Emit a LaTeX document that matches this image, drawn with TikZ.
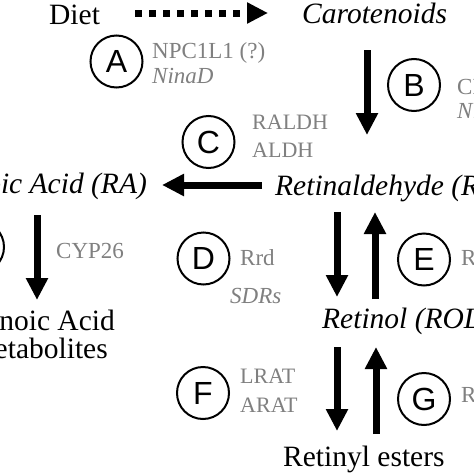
\documentclass[tikz,border=0pt]{standalone}
\usepackage{fontspec}
\setmainfont{Liberation Serif}
\newfontfamily\circfont{Liberation Sans}
\usetikzlibrary{arrows.meta}
\definecolor{labgray}{HTML}{808080}
\tikzset{
  main/.style={inner sep=0pt, font=\fontsize{29.5}{34}\selectfont},
  mainit/.style={main, font=\fontsize{29.5}{34}\selectfont\itshape},
  enz/.style={inner sep=0pt, text=labgray, font=\fontsize{23}{27}\selectfont},
  enzcap/.style={inner sep=0pt, text=labgray, font=\fontsize{22}{26}\selectfont},
  enzit/.style={enz, font=\fontsize{23}{27}\selectfont\itshape},
  circ/.style={circle, draw, line width=2pt, minimum size=52pt, inner sep=0pt, font=\fontsize{32}{36}\circfont},
  fat/.style={line width=7pt, -{Triangle[length=22pt,width=21pt]}},
  dotarrow/.style={line width=7pt, dash pattern=on 7pt off 7pt, -{Triangle[length=21pt,width=20pt]}}
}
\begin{document}
\begin{tikzpicture}[x=1pt, y=-1pt]
\useasboundingbox[fill=white] (0,0) rectangle (474,474);

% main labels
\node[main, anchor=base west] (diet) at (49,24) {Diet};
\node[mainit, anchor=base west] (caro) at (302,23) {Carotenoids};
\node[mainit, anchor=base east] (ra) at (147,193) {Retinoic Acid (RA)};
\node[mainit, anchor=base west] (ral) at (275,195) {Retinaldehyde (RAL)};
\node[main, anchor=base east] (ram1) at (115,330) {Retinoic Acid};
\node[main, anchor=base east] (ram2) at (108,358) {Metabolites};
\node[mainit, anchor=base west] (rol) at (322,328) {Retinol (ROL)};
\node[main, anchor=base west] (re) at (283,466) {Retinyl esters};

% circles
\node[circ] (cA) at (116.5,61.5) {A};
\node[circ] (cB) at (414,85) {B};
\node[circ] (cC) at (208.5,142) {C};
\node[circ] (cH) at (-22,247) {};
\node[circ] (cD) at (203.5,258.5) {D};
\node[circ] (cE) at (424,259.5) {E};
\node[circ] (cF) at (203,393) {F};
\node[circ] (cG) at (424,399) {G};

% enzyme labels
\node[enz, anchor=base west] (tA1) at (152,58) {NPC1L1 (?)};
\node[enzit, anchor=base west] (tA2) at (152,83) {NinaD};
\node[enz, anchor=base west] (tB1) at (457,94) {CMO1};
\node[enzit, anchor=base west] (tB2) at (457,118) {NinaB};
\node[enzcap, anchor=base west] (tC1) at (252,129) {RALDH};
\node[enzcap, anchor=base west] (tC2) at (252,157) {ALDH};
\node[enz, anchor=base west] (tCYP) at (56,258) {CYP26};
\node[enz, anchor=base west] (tD1) at (240,265) {Rrd};
\node[enzit, anchor=base west] (tD2) at (230,303) {SDRs};
\node[enz, anchor=base west] (tE) at (461,265) {RDH};
\node[enzcap, anchor=base west] (tF1) at (240,383) {LRAT};
\node[enzcap, anchor=base west] (tF2) at (240,412) {ARAT};
\node[enz, anchor=base west] (tG) at (461,402) {REH};

% arrow end points
\coordinate (d1) at (135,13);
\coordinate (d2) at (268,13);
\coordinate (b1) at (367,50);
\coordinate (b2) at (367,135);
\coordinate (c1) at (262,185);
\coordinate (c2) at (162,185);
\coordinate (y1) at (37,215);
\coordinate (y2) at (37,300);
\coordinate (r1) at (337,212);
\coordinate (r2) at (337,297);
\coordinate (r3) at (375,299);
\coordinate (r4) at (375,212);
\coordinate (s1) at (337,347);
\coordinate (s2) at (337,431);
\coordinate (s3) at (376,434);
\coordinate (s4) at (376,347);

\draw[dotarrow] (d1) -- (d2);
\draw[fat] (b1) -- (b2);
\draw[fat] (c1) -- (c2);
\draw[fat] (y1) -- (y2);
\draw[fat] (r1) -- (r2);
\draw[fat] (r3) -- (r4);
\draw[fat] (s1) -- (s2);
\draw[fat] (s3) -- (s4);
\end{tikzpicture}
\end{document}
